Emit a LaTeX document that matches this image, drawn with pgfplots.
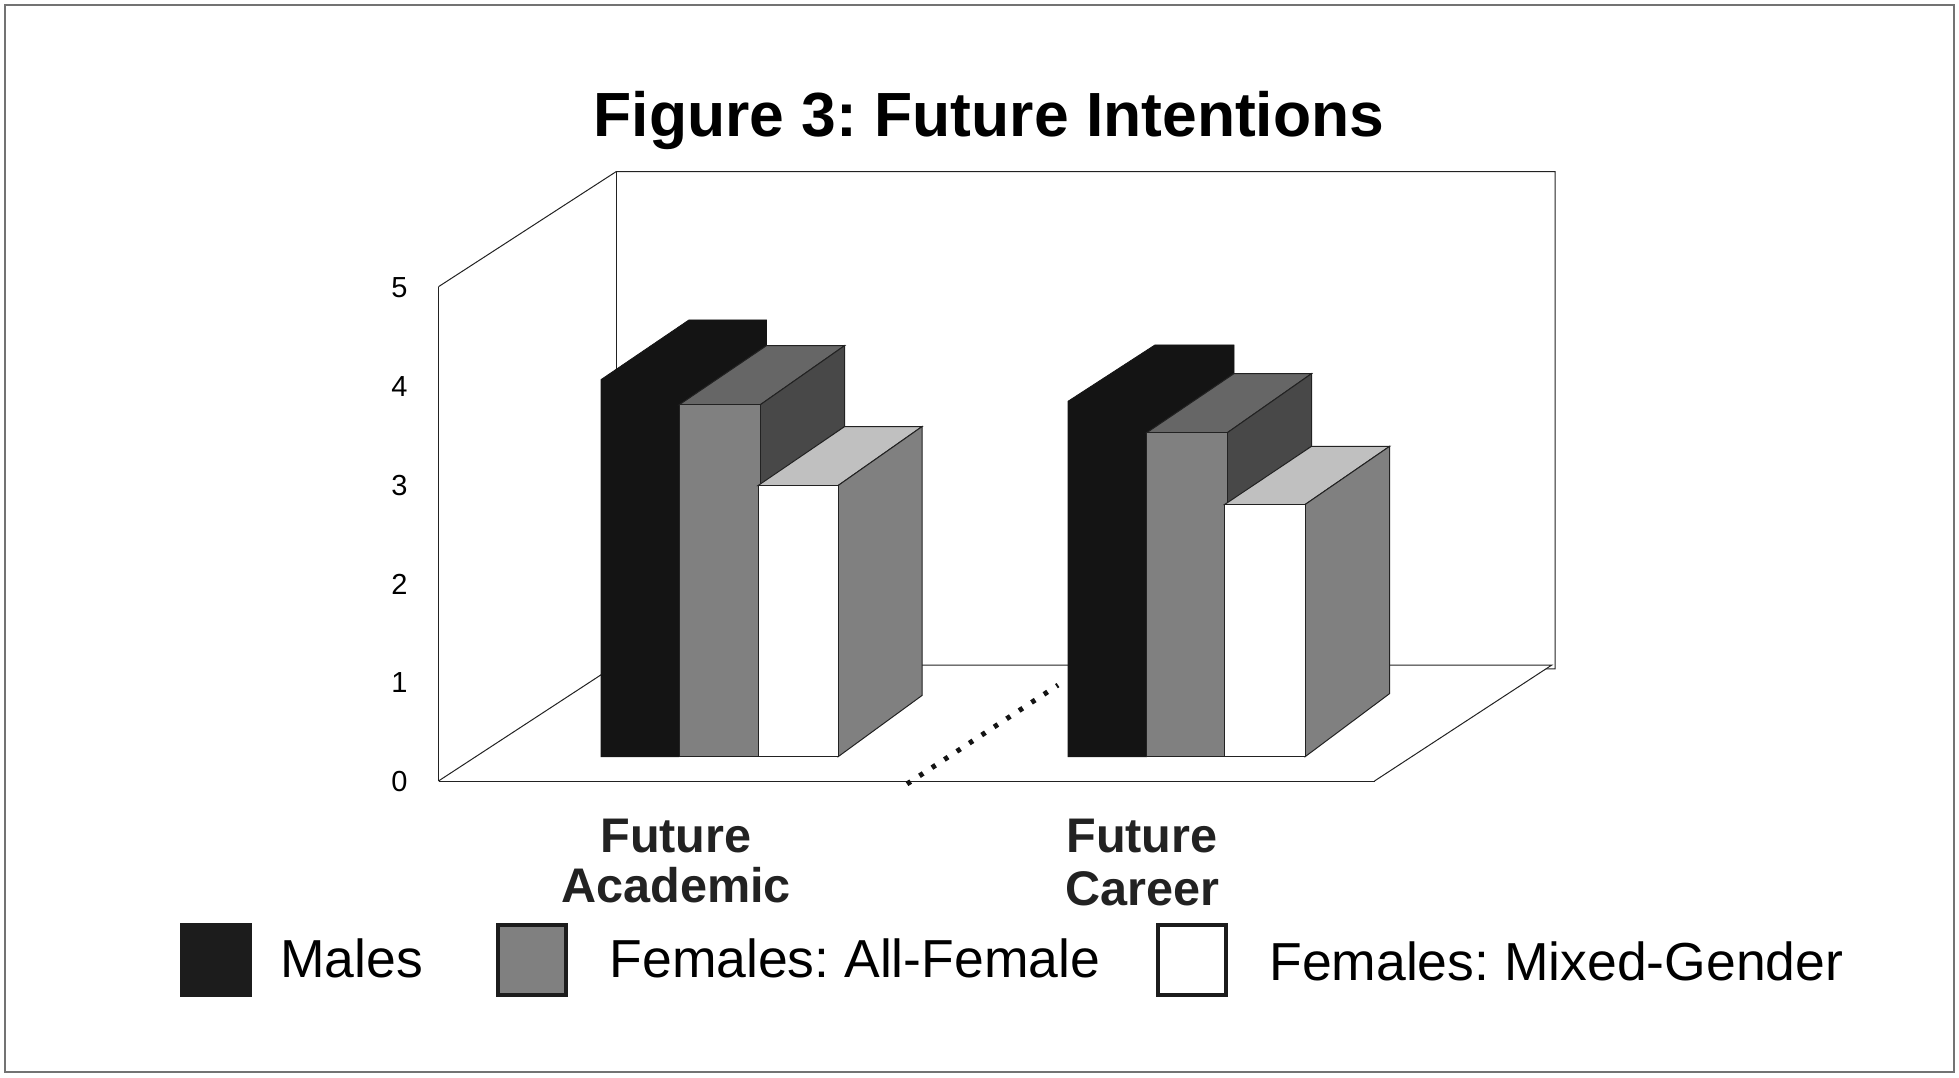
\documentclass[border=0pt]{standalone}
\usepackage{fontspec}
\setmainfont{Liberation Sans}
\usepackage{pgfplots}
\pgfplotsset{compat=1.18}

\definecolor{barblack}{HTML}{141414}
\definecolor{bargray}{HTML}{808080}
\definecolor{graytop}{HTML}{666666}
\definecolor{grayside}{HTML}{484848}
\definecolor{whitetop}{HTML}{C0C0C0}
\definecolor{swatch}{HTML}{1C1C1C}
\definecolor{edge}{HTML}{222222}

% one picture pixel = 0.5pt, x is in pixels, y in scale values
\begin{document}
\frenchspacing
\begin{tikzpicture}
\path[use as bounding box] (0,0) rectangle (979.5pt,538.5pt);
\begin{axis}[
    at={(219.25pt,148pt)},
    anchor=south west,
    scale only axis,
    width=468pt,
    height=247.15pt,
    xmin=438.5,xmax=1374.5,
    ymin=0,ymax=5,
    clip=false,
    axis y line=left,
    axis x line=bottom,
    axis line style={-,draw=edge,line width=0.5pt},
    major tick length=0pt,
    ytick={0,1,2,3,4,5},
    xtick={676,1142},
    xticklabels={{Future\\Academic},{Future\\[1.5pt]Career}},
    xticklabel style={align=center,yshift=-15.5pt,text=edge,
        font=\fontsize{24.3}{25}\selectfont\bfseries},
    yticklabel style={xshift=-12pt,yshift=-0.4pt,font=\fontsize{14.5}{16}\selectfont},
    /pgf/number format/assume math mode=true,
    title={Figure 3: Future Intentions},
    title style={at={(axis cs:989,6.40)},anchor=base,
        font=\fontsize{31.2}{34}\selectfont\bfseries},
    legend columns=3,
    legend cell align=left,
    legend style={at={(axis cs:180,-1.806)},anchor=west,draw=none,fill=none,
        inner sep=0pt,column sep=0pt,nodes={inner sep=0pt},
        font=\fontsize{26.75}{28}\selectfont},
]

% outer frame
\addplot[draw=black!55,line width=1pt,forget plot] coordinates {
    (5,7.85)(1954,7.85)(1954,-2.943)(5,-2.943)} -- cycle;

% walls and floor
\addplot[draw=edge,line width=0.5pt,forget plot] coordinates {
    (438.5,5)(616,6.163)(1555,6.163)(1555,1.133)(1546,1.133)};
\addplot[draw=edge,line width=0.5pt,forget plot] coordinates {
    (616,6.163)(616,1.173)};
\addplot[draw=edge,line width=0.5pt,forget plot] coordinates {
    (438.5,0)(616,1.173)(1551.8,1.173)(1374.5,0)};

% dotted divider on the floor
\addplot[draw=barblack,line width=2.5pt,dash pattern=on 2.2pt off 5.24pt,forget plot]
    coordinates {(907,-0.03)(1058,0.97)};

% Future Academic
\addplot[fill=barblack,draw=barblack,line width=0.4pt,forget plot] coordinates {
    (601,0.245)(601,4.06)(689,4.664)(766.5,4.664)(766.5,3.804)(679,3.804)(679,0.245)} -- cycle;
\addplot[fill=graytop,draw=edge,line width=0.5pt,forget plot] coordinates {
    (679,3.804)(766.5,4.404)(844.6,4.404)(760,3.804)} -- cycle;
\addplot[fill=grayside,draw=edge,line width=0.5pt,forget plot] coordinates {
    (760,3.804)(844.6,4.404)(844.6,3.585)(760,2.988)} -- cycle;
\addplot[fill=bargray,draw=edge,line width=0.5pt,forget plot] coordinates {
    (679,0.245)(679,3.804)(760,3.804)(760,0.245)} -- cycle;
\addplot[fill=whitetop,draw=edge,line width=0.5pt,forget plot] coordinates {
    (758,2.988)(844.6,3.585)(922,3.585)(838,2.988)} -- cycle;
\addplot[fill=bargray,draw=edge,line width=0.5pt,forget plot] coordinates {
    (838,2.988)(922,3.585)(922,0.865)(838,0.245)} -- cycle;
\addplot[fill=white,draw=edge,line width=0.5pt,forget plot] coordinates {
    (758,0.245)(758,2.988)(838,2.988)(838,0.245)} -- cycle;

% Future Career
\addplot[fill=barblack,draw=barblack,line width=0.4pt,forget plot] coordinates {
    (1068,0.245)(1068,3.841)(1155,4.411)(1234,4.411)(1234,3.521)(1146.4,3.521)(1146.4,0.245)} -- cycle;
\addplot[fill=graytop,draw=edge,line width=0.5pt,forget plot] coordinates {
    (1146.4,3.521)(1234,4.121)(1311.6,4.121)(1227,3.521)} -- cycle;
\addplot[fill=grayside,draw=edge,line width=0.5pt,forget plot] coordinates {
    (1227,3.521)(1311.6,4.121)(1311.6,3.386)(1227,2.796)} -- cycle;
\addplot[fill=bargray,draw=edge,line width=0.5pt,forget plot] coordinates {
    (1146.4,0.245)(1146.4,3.521)(1227,3.521)(1227,0.245)} -- cycle;
\addplot[fill=whitetop,draw=edge,line width=0.5pt,forget plot] coordinates {
    (1224.5,2.796)(1311.6,3.386)(1389.7,3.386)(1305,2.796)} -- cycle;
\addplot[fill=bargray,draw=edge,line width=0.5pt,forget plot] coordinates {
    (1305,2.796)(1389.7,3.386)(1389.7,0.885)(1305,0.245)} -- cycle;
\addplot[fill=white,draw=edge,line width=0.5pt,forget plot] coordinates {
    (1224.5,0.245)(1224.5,2.796)(1305,2.796)(1305,0.245)} -- cycle;

% legend
\pgfplotsset{legend image code/.code={
    \draw[#1,line width=2pt] (1pt,-17.5pt) rectangle (35pt,17.5pt);}}
\addlegendimage{fill=swatch,draw=swatch}
\addlegendentry{\hspace{14pt}Males\hspace{36.25pt}\null}
\addlegendimage{fill=bargray,draw=swatch}
\addlegendentry{\hspace{21pt}Females: All-Female\hspace{28.1pt}\null}
\addlegendimage{fill=white,draw=swatch}
\addlegendentry{\hspace{20.5pt}\raisebox{-3pt}{Females: Mixed-Gender}}
\end{axis}
\end{tikzpicture}
\end{document}
